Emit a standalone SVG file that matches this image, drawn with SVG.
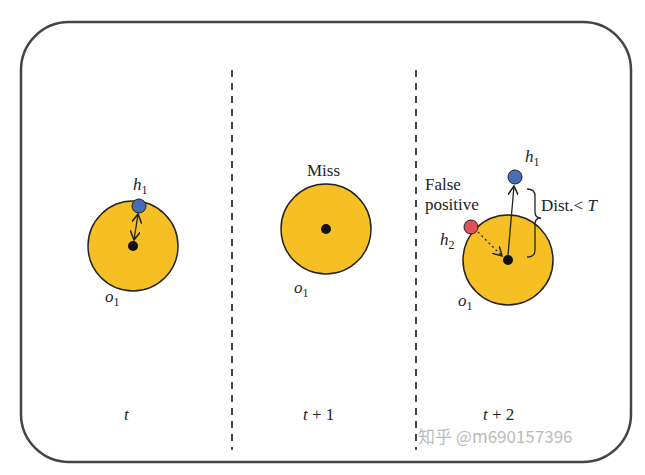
<svg xmlns="http://www.w3.org/2000/svg" width="645" height="475" viewBox="0 0 645 475">
<style>
.t{font-family:"Liberation Serif",serif;font-size:17px;fill:#222}
.i{font-style:italic}
.s{font-style:normal;font-size:12px}
.o{fill:#f6c025;stroke:#222;stroke-width:1.5}
.ln{stroke:#222;stroke-width:1.3;fill:none}
</style>
<defs><marker id="a" markerWidth="8" markerHeight="8" refX="7" refY="4" orient="auto-start-reverse"><path d="M0,0 L7,4 L0,8" fill="none" stroke="#222" stroke-width="1.2"/></marker></defs>
<rect width="645" height="475" fill="#fff"/>
<rect x="21" y="22" width="610" height="440" rx="48" fill="none" stroke="#444" stroke-width="2.5"/>
<g id="dividers" stroke="#444" stroke-width="2" stroke-dasharray="7,6"><line x1="232" y1="70" x2="232" y2="450"/><line x1="416" y1="70" x2="416" y2="450"/></g>
<g id="panel1"><circle class="o" cx="133" cy="246" r="45"/><circle cx="133" cy="246" r="5" fill="#111"/><circle cx="139" cy="206" r="7" fill="#4a6bb5" stroke="#222"/>
<text class="t i" x="133" y="190">h<tspan class="s" dy="4">1</tspan></text><text class="t i" x="105" y="302">o<tspan class="s" dy="4">1</tspan></text><text class="t i" x="124" y="420">t</text></g>
<g id="panel2"><circle class="o" cx="326" cy="229" r="45"/><circle cx="326" cy="229" r="5" fill="#111"/>
<text class="t" x="307" y="176">Miss</text><text class="t i" x="294" y="293">o<tspan class="s" dy="4">1</tspan></text><text class="t i" x="303" y="420">t <tspan font-style="normal">+ 1</tspan></text></g>
<g id="panel3"><circle class="o" cx="508" cy="260" r="45"/><circle cx="508" cy="260" r="5" fill="#111"/><circle cx="515" cy="177" r="7" fill="#4a6bb5" stroke="#222"/><circle cx="471" cy="227" r="7" fill="#e0505a" stroke="#222"/>
<text class="t i" x="525" y="162">h<tspan class="s" dy="4">1</tspan></text><text class="t" x="425" y="190">False</text><text class="t" x="425" y="210">positive</text>
<text class="t i" x="440" y="245">h<tspan class="s" dy="4">2</tspan></text><text class="t" x="541" y="211">Dist.&lt; <tspan class="i">T</tspan></text>
<text class="t i" x="458" y="306">o<tspan class="s" dy="4">1</tspan></text><text class="t i" x="483" y="420">t <tspan font-style="normal">+ 2</tspan></text></g>
<g id="connectors">
<line class="ln" x1="134" y1="240" x2="138" y2="214" marker-end="url(#a)" marker-start="url(#a)"/>
<line class="ln" x1="508" y1="255" x2="514" y2="186" marker-end="url(#a)"/>
<line class="ln" x1="478" y1="232" x2="502" y2="256" stroke-dasharray="2,3" marker-end="url(#a)"/>
<path class="ln" d="M527,189 Q535,189 535,196 L535,212 Q535,218 541,218 Q535,218 535,224 L535,250 Q535,257 527,257"/>
</g>
<text x="418" y="443" font-family="'Noto Sans CJK SC',sans-serif" font-size="17" fill="#bbb">知乎 @m690157396</text>
</svg>
